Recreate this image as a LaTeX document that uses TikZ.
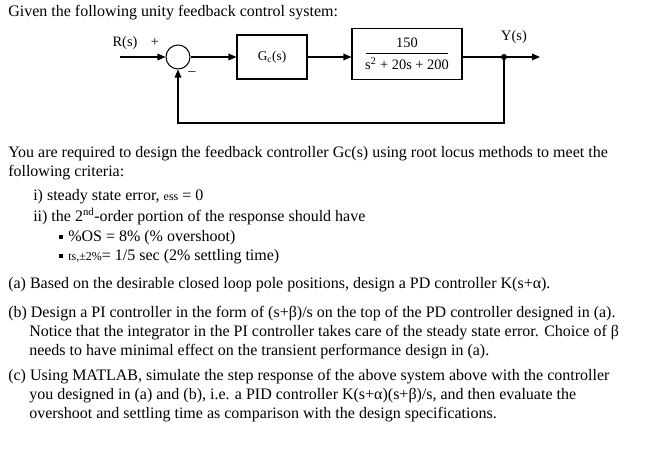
\documentclass[tikz,border=0pt]{standalone}
\usepackage{fontspec}
\setmainfont{Liberation Serif}
\usetikzlibrary{arrows.meta}
\begin{document}
\begin{tikzpicture}[x=0.75pt,y=-0.75pt,
  txt/.style={anchor=base west,inner sep=0pt,font=\fontsize{12}{14}\selectfont},
  sm/.style={inner sep=0pt,font=\fontsize{10.8}{12}\selectfont},
  blk/.style={draw,thick,minimum width=52.5pt,minimum height=33pt,inner sep=0pt},
  sig/.style={thick,-{Triangle[length=6pt,width=5pt]}},
  bul/.style={fill,minimum size=3pt,inner sep=0pt}]
\useasboundingbox (0,0) rectangle (656,449);
\node[txt] (t0) at (8,17) {Given the following unity feedback control system:};
% block diagram
\coordinate (rin) at (120,57);
\node[draw,thick,circle,minimum size=18pt,inner sep=0pt] (sum) at (178,57) {};
\node[blk] (gc) at (272,57) {G\textsubscript{c}(s)};
\node[blk,minimum width=82.5pt,minimum height=38pt] (gp) at (407,54) {};
\node[sm] (num) at (407,43) {150};
\node[sm] (den) at (407,64) {s\textsuperscript{2} + 20s + 200};
\draw[thick] (366,53.5) -- (448,53.5);
\coordinate (tap) at (504,57);
\coordinate (yout) at (540,57);
\coordinate (fb) at (504,123);
\coordinate (fb2) at (178,123);
\fill (tap) circle (3);
\draw[sig] (rin) -- (sum);
\draw[sig] (sum) -- (gc);
\draw[sig] (gc) -- (gp.west |- gc);
\draw[thick] (gp.east |- tap) -- (tap);
\draw[sig] (tap) -- (yout);
\draw[sig] (tap) -- (fb) -- (fb2) -- (sum);
\node[sm] (rl) at (125,43) {R(s)};
\node[sm] (pl) at (155,42) {+};
\node[sm] (ml) at (192,74) {\textendash};
\node[sm] (yl) at (514,37) {Y(s)};
% text
\node[txt] (p1) at (8,157) {You are required to design the feedback controller Gc(s) using root locus methods to meet the};
\node[txt] (p2) at (8,176) {following criteria:};
\node[txt] (c1) at (33,200) {i) steady state error, {\fontsize{9}{10}\selectfont ess} = 0};
\node[txt] (c2) at (33,221) {ii) the 2\textsuperscript{nd}-order portion of the response should have};
\node[bul] (b1) at (61,237) {};
\node[txt] (c3) at (68,241) {\%OS = 8\% (\% overshoot)};
\node[bul] (b2) at (61,256) {};
\node[txt] (c4) at (68,260) {{\fontsize{9}{10}\selectfont ts,±2\%}= 1/5 sec (2\% settling time)};
\node[txt] (a1) at (8,288) {(a) Based on the desirable closed loop pole positions, design a PD controller K(s+α).};
\node[txt] (bb1) at (8,317) {(b) Design a PI controller in the form of (s+β)/s on the top of the PD controller designed in (a).};
\node[txt] (bb2) at (29,336) {Notice that the integrator in the PI controller takes care of the steady state error. Choice of β};
\node[txt] (bb3) at (29,355) {needs to have minimal effect on the transient performance design in (a).};
\node[txt] (cc1) at (8,380) {(c) Using MATLAB, simulate the step response of the above system above with the controller};
\node[txt] (cc2) at (29,399) {you designed in (a) and (b), i.e. a PID controller K(s+α)(s+β)/s, and then evaluate the};
\node[txt] (cc3) at (29,418) {overshoot and settling time as comparison with the design specifications.};
\end{tikzpicture}
\end{document}
